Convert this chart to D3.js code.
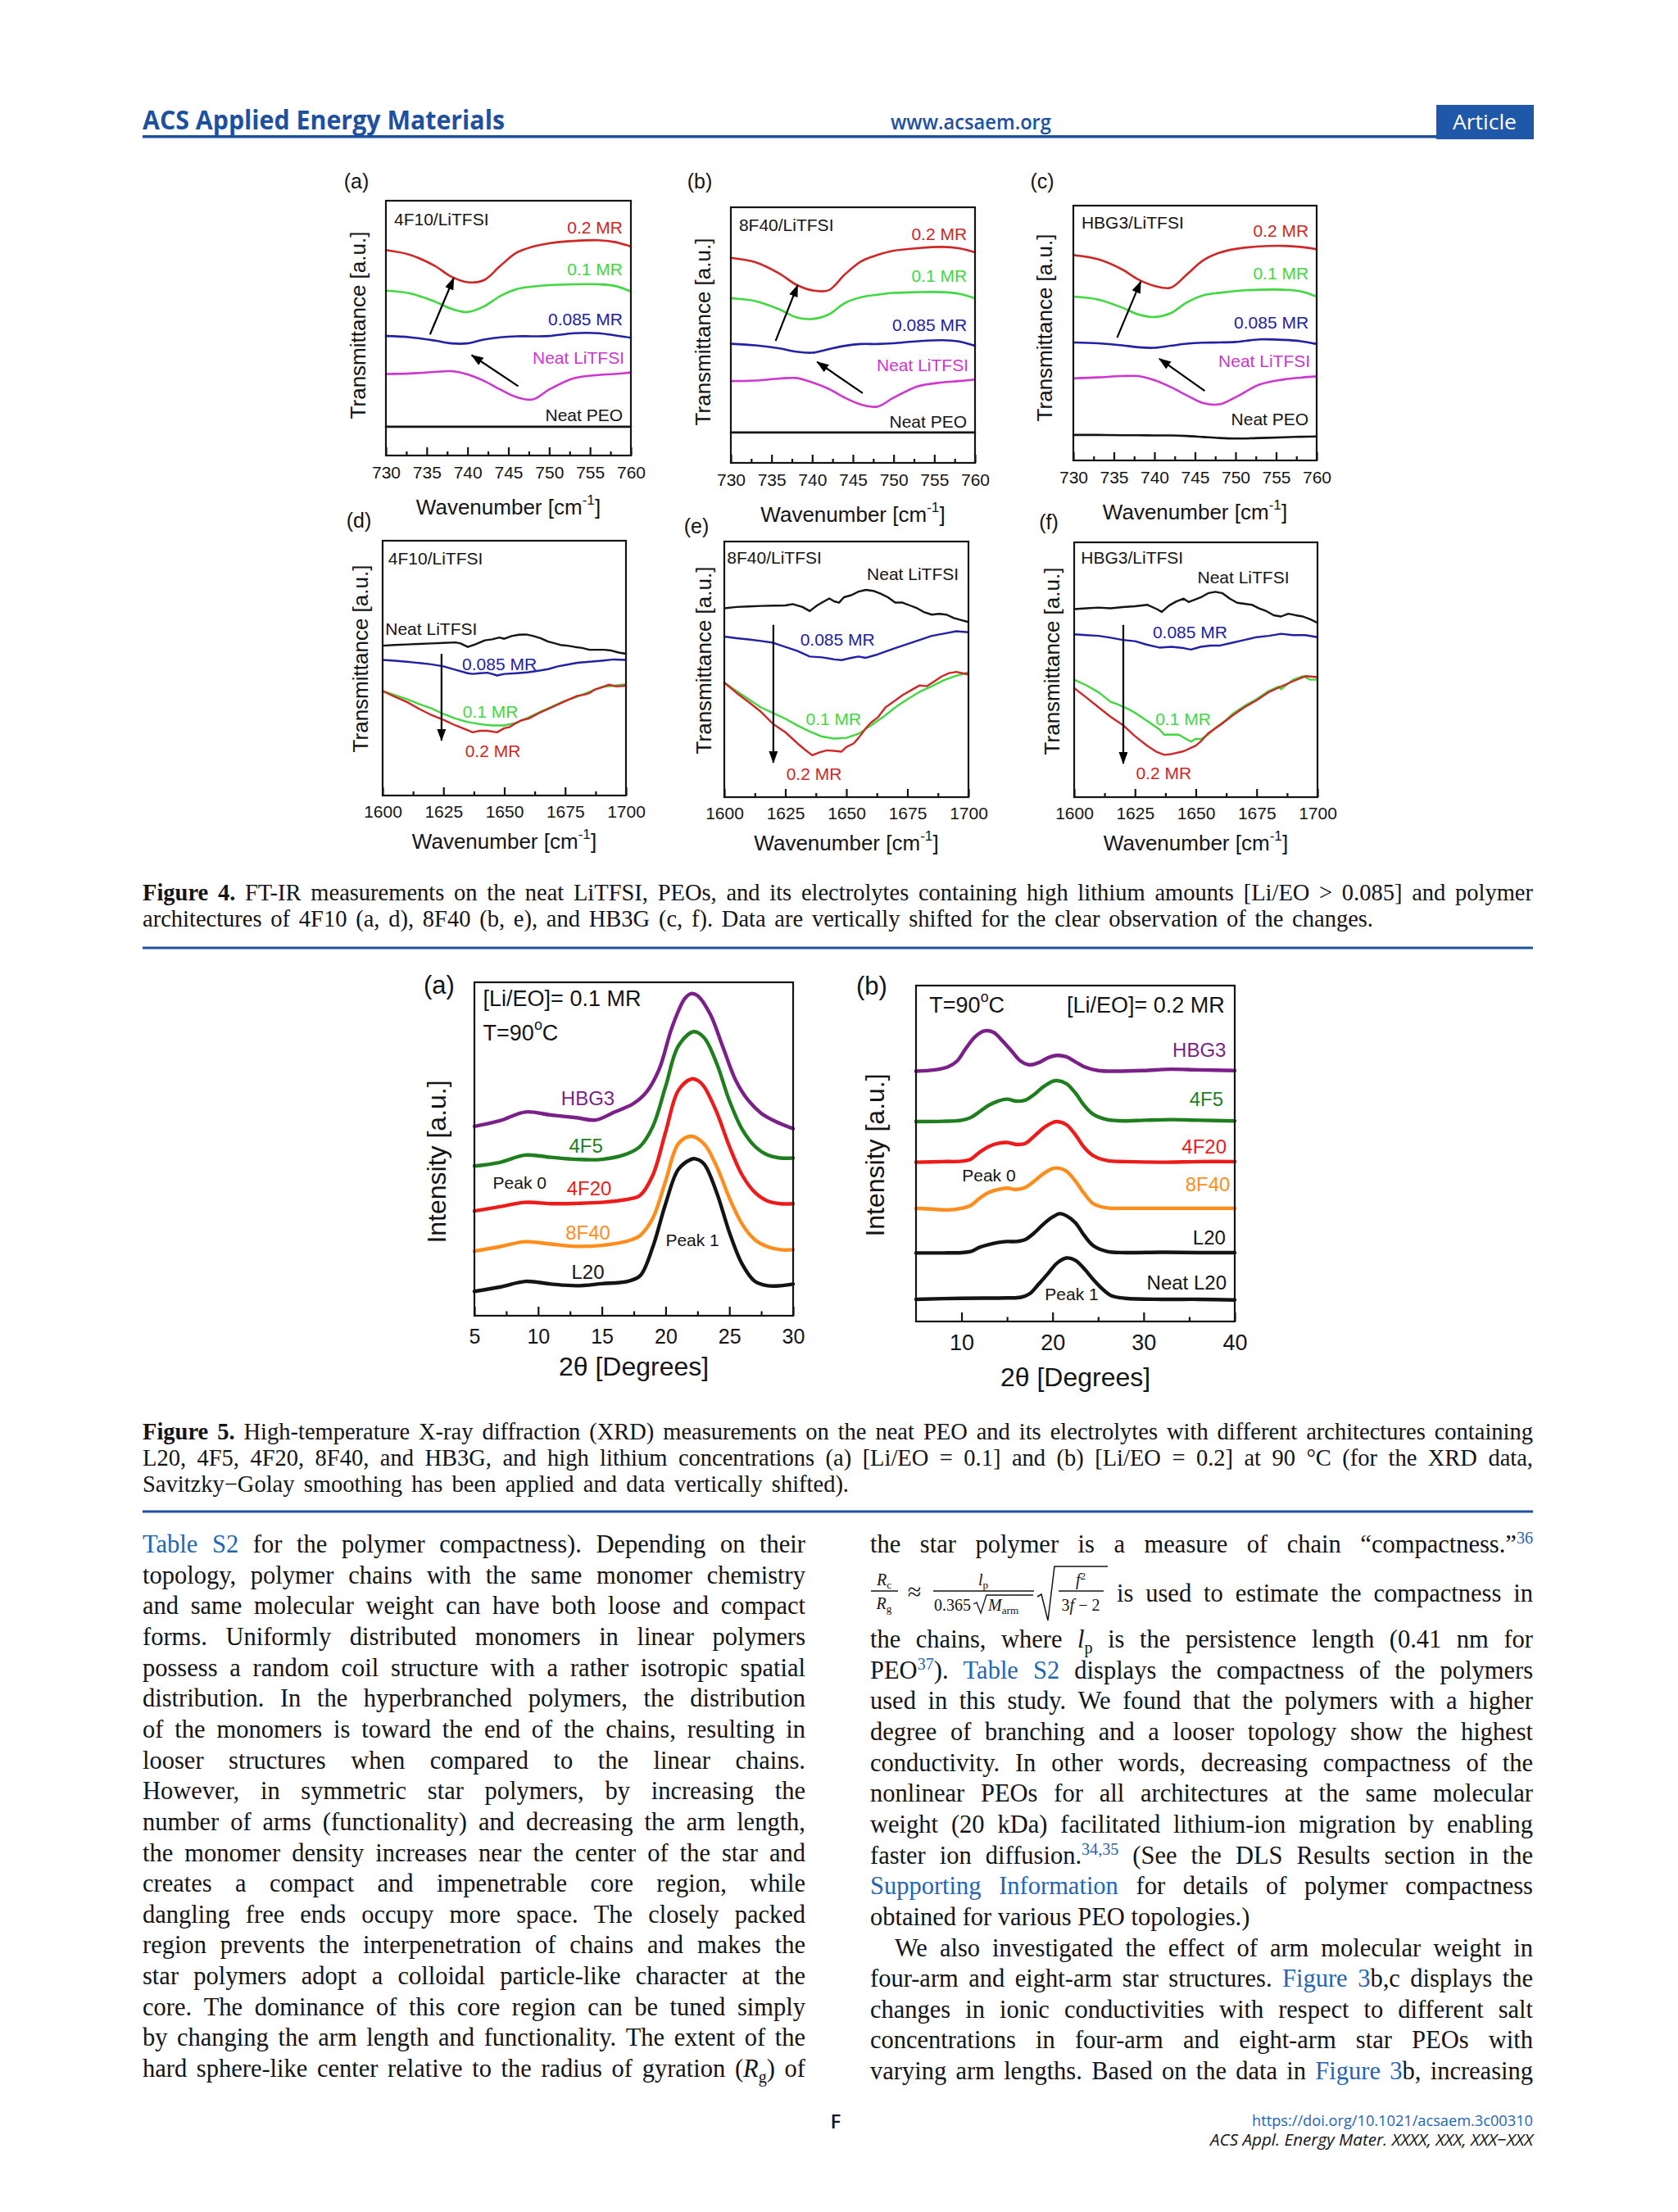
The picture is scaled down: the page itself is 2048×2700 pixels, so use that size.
<!DOCTYPE html>
<html><head><meta charset="utf-8">
<script src="https://cdn.jsdelivr.net/npm/d3@7"></script>
<style>body{margin:0;background:#fff}svg{white-space:pre}</style>
</head><body>
<svg id="page" width="2048" height="2700" xmlns="http://www.w3.org/2000/svg"></svg>
<script>
// ================= DATA =================
// Figure 4 (a-c): 730-760 cm-1 region, shared x grid
const ftirTopX = [730,733,736,738,740,742,744,746,748,750,753,756,758,760];
const a_red   = [80.6,78.7,74.4,70.2,68.0,68.8,74.4,79.6,82.0,83.3,84.2,84.5,83.8,82.0];
const a_green = [64.7,63.6,60.4,57.6,56.3,58.5,62.6,65.3,66.3,66.9,67.2,67.2,66.6,64.4];
const a_blue  = [46.9,46.4,45.1,44.0,44.0,45.5,46.4,46.8,46.8,46.9,48.0,48.0,47.2,46.2];
const a_mag   = [32.0,32.2,32.8,33.1,31.8,29.3,25.9,22.9,22.0,25.9,30.3,31.6,32.0,32.6];
const a_black = [11.3,11.3,11.3,11.3,11.3,11.3,11.3,11.3,11.3,11.3,11.3,11.3,11.3,11.3];
const b_red   = [80.2,78.5,74.0,69.8,67.5,67.5,73.7,78.8,81.3,83.0,84.0,84.5,84.0,82.4];
const b_green = [64.4,63.3,60.0,57.0,56.3,58.0,62.5,64.8,65.8,66.5,66.8,66.8,66.2,64.4];
const b_blue  = [46.6,46.0,44.8,43.5,43.1,44.5,45.8,46.5,46.5,46.8,47.6,48.0,47.5,45.8];
const b_mag   = [32.0,32.2,33.0,33.2,31.5,29.0,25.5,22.8,22.0,25.5,30.0,31.5,32.0,32.6];
const b_black = [11.9,11.9,11.9,11.9,11.9,11.9,11.9,11.9,11.9,11.9,11.9,11.9,11.9,11.9];
const c_red   = [80.6,79.0,75.0,71.0,68.5,67.8,73.0,78.5,81.5,83.0,84.0,84.2,83.8,82.9];
const c_green = [64.3,63.2,60.0,57.3,56.3,57.8,62.0,64.8,65.8,66.5,67.0,67.0,66.4,64.3];
const c_blue  = [46.3,46.0,45.2,44.4,44.2,45.0,45.8,46.2,46.3,46.5,47.5,47.3,46.8,45.7];
const c_mag   = [32.2,32.6,33.1,33.1,31.5,28.8,25.5,22.5,22.0,24.8,29.8,31.8,32.5,33.0];
const c_black = [10.0,10.0,9.9,9.9,9.8,9.8,9.6,9.2,8.8,8.6,8.8,9.1,9.3,9.4];
const ftirTopTicks = [730,735,740,745,750,755,760];
const ftirTopMinor = [732.5,737.5,742.5,747.5,752.5,757.5];

// Figure 4 (d-f): 1600-1700 cm-1 region, [wavenumber, transmittance]
const d_black = [[1600,58.8],[1605,59.1],[1610,59.3],[1615,59.5],[1620,59.7],[1625,59.9],[1630,60.1],[1632,59.7],[1635,58.3],[1638,59.3],[1640,60.1],[1642,60.9],[1645,61.3],[1648,62.0],[1650,61.5],[1653,62.6],[1656,63.1],[1659,63.2],[1662,62.6],[1665,61.7],[1668,60.4],[1670,59.9],[1673,59.1],[1676,58.8],[1679,58.3],[1682,57.9],[1685,57.2],[1688,57.2],[1691,57.2],[1694,56.9],[1697,56.1],[1700,55.6]];
const d_blue = [[1600,53.2],[1605,52.9],[1610,52.5],[1615,52.0],[1620,51.5],[1625,50.7],[1630,49.3],[1635,48.0],[1637,47.7],[1640,48.0],[1643,48.2],[1645,47.7],[1647,47.1],[1650,47.7],[1655,48.0],[1660,48.4],[1665,49.1],[1668,49.6],[1672,50.7],[1675,51.2],[1680,52.1],[1685,52.5],[1690,52.9],[1695,53.4],[1700,53.2]];
const d_green = [[1600,41.0],[1605,39.4],[1610,37.8],[1615,35.9],[1620,34.2],[1625,32.0],[1630,30.2],[1635,28.8],[1640,28.0],[1645,27.5],[1650,27.5],[1655,28.6],[1660,30.7],[1665,32.9],[1670,35.1],[1675,37.2],[1680,38.8],[1685,40.7],[1690,42.6],[1695,43.1],[1700,43.7]];
const d_red = [[1600,41.0],[1605,38.8],[1610,36.7],[1615,34.0],[1620,31.6],[1625,29.7],[1630,27.5],[1635,25.6],[1637,24.8],[1640,25.4],[1643,25.4],[1647,24.8],[1650,26.4],[1652,26.8],[1654,28.0],[1657,29.5],[1660,30.2],[1665,32.7],[1670,34.8],[1675,37.0],[1680,39.1],[1683,39.6],[1685,40.2],[1687,41.5],[1690,42.4],[1693,43.5],[1696,42.8],[1700,43.1]];
const e_black = [[1600,73.9],[1605,74.4],[1610,74.6],[1615,74.8],[1620,74.9],[1625,75.0],[1628,75.5],[1632,74.4],[1635,72.8],[1638,75.0],[1640,76.1],[1643,77.7],[1645,76.6],[1647,76.1],[1649,78.2],[1652,79.0],[1655,80.4],[1658,81.1],[1661,80.7],[1664,79.6],[1667,78.2],[1670,76.1],[1673,76.1],[1676,75.0],[1679,73.9],[1682,72.3],[1685,71.4],[1688,71.7],[1691,71.4],[1694,70.1],[1697,69.3],[1700,68.5]];
const e_blue = [[1600,62.8],[1605,62.2],[1610,61.7],[1615,61.1],[1620,60.4],[1625,58.8],[1630,57.2],[1635,55.0],[1640,54.7],[1645,53.9],[1648,53.6],[1652,54.5],[1655,55.0],[1658,54.5],[1662,55.6],[1665,56.6],[1670,58.3],[1675,59.9],[1680,61.5],[1685,63.1],[1690,64.0],[1695,64.9],[1700,64.5]];
const e_green = [[1600,44.8],[1605,41.5],[1610,38.3],[1615,35.1],[1620,32.9],[1625,30.7],[1630,28.0],[1635,25.7],[1640,23.7],[1645,22.9],[1650,23.2],[1655,24.8],[1660,28.0],[1665,31.3],[1670,35.1],[1675,38.3],[1680,41.2],[1685,43.4],[1690,45.8],[1695,47.5],[1700,48.8]];
const e_red = [[1600,44.8],[1605,40.8],[1610,37.2],[1615,33.4],[1620,28.6],[1625,25.4],[1630,21.0],[1633,18.6],[1636,16.4],[1639,17.5],[1642,18.3],[1645,18.1],[1648,17.8],[1650,19.6],[1653,21.0],[1655,23.2],[1658,27.0],[1660,29.1],[1663,31.3],[1666,35.1],[1670,37.8],[1673,39.9],[1677,42.1],[1680,43.7],[1683,43.4],[1686,45.3],[1689,47.2],[1692,48.5],[1695,49.0],[1700,48.0]];
const f_black = [[1600,73.8],[1605,74.1],[1610,74.4],[1615,74.1],[1620,74.6],[1625,74.9],[1630,75.5],[1634,73.8],[1636,72.7],[1639,75.2],[1642,76.8],[1645,77.9],[1647,76.6],[1649,77.3],[1652,78.4],[1655,80.0],[1658,80.6],[1661,80.0],[1664,77.9],[1667,76.3],[1670,75.9],[1673,75.5],[1676,74.1],[1679,73.0],[1682,71.4],[1685,70.9],[1688,72.0],[1691,71.4],[1694,70.9],[1697,69.8],[1700,68.4]];
const f_blue = [[1600,63.9],[1605,63.6],[1610,63.3],[1615,62.6],[1620,61.7],[1625,61.2],[1630,59.8],[1635,58.7],[1640,59.0],[1645,58.5],[1648,57.9],[1652,59.0],[1656,59.5],[1660,59.5],[1665,60.6],[1670,61.7],[1675,62.8],[1680,63.3],[1685,64.1],[1690,63.6],[1695,63.6],[1700,62.8]];
const f_green = [[1600,46.1],[1605,43.9],[1610,41.2],[1615,37.4],[1618,36.4],[1622,34.7],[1625,33.1],[1630,29.9],[1635,26.6],[1637,24.5],[1640,24.5],[1643,24.5],[1645,23.4],[1648,21.8],[1650,22.9],[1652,22.7],[1655,24.5],[1658,27.2],[1662,29.9],[1665,32.6],[1670,35.8],[1675,38.5],[1680,41.7],[1684,43.4],[1685,42.3],[1687,43.9],[1690,46.1],[1694,47.5],[1697,46.1],[1700,46.1]];
const f_red = [[1600,42.8],[1605,39.1],[1610,35.3],[1615,31.5],[1620,28.3],[1625,23.9],[1630,20.2],[1634,17.7],[1637,16.6],[1640,16.9],[1645,18.0],[1650,20.2],[1652,21.8],[1655,25.0],[1660,28.3],[1665,32.0],[1670,35.3],[1675,38.0],[1680,41.2],[1685,43.4],[1690,45.5],[1695,47.5],[1700,47.1]];
const ftirBotTicks = [1600,1625,1650,1675,1700];
const ftirBotMinor = [1612.5,1637.5,1662.5,1687.5];

// Figure 5 (a): [2theta, intensity]
const xa_HBG3 = [[5,56.8],[7,58.5],[9,61.1],[11,60.2],[13,59.4],[14.5,58.7],[16,61.1],[17.5,63.7],[18.5,67.1],[19.5,74.0],[20.5,86.5],[21.5,95.1],[22,96.6],[22.5,96.0],[23.5,90.4],[24.5,80.5],[25.5,70.6],[26.5,64.5],[27.5,60.7],[28.5,58.5],[30,56.1]];
const xa_4F5 = [[5,44.9],[7,46.0],[9,48.2],[11,47.5],[13,46.9],[15,46.9],[17,48.6],[18,50.8],[19,56.8],[20,68.8],[21,80.9],[22.2,85.2],[23,83.5],[24,75.7],[25,64.5],[26,55.9],[27,50.8],[28,48.2],[29,47.3],[30,47.3]];
const xa_4F20 = [[5,31.4],[7,32.7],[9,34.0],[11,33.6],[13,33.7],[15,34.0],[17,34.9],[18,36.1],[19,42.2],[20,55.1],[21,67.6],[22,71.0],[22.5,70.6],[23,68.8],[24,61.1],[25,50.8],[26,42.2],[27,37.0],[28,34.4],[29,33.6],[30,33.6]];
const xa_8F40 = [[5,19.4],[7,20.7],[9,22.2],[11,21.5],[13,20.8],[15,21.1],[17,22.4],[18,24.1],[19,29.3],[20,40.4],[21,51.6],[22,53.8],[23,51.6],[24,44.8],[25,35.3],[26,27.5],[27,22.8],[28,20.7],[29,19.8],[30,19.8]];
const xa_L20 = [[5,7.3],[7,8.6],[9,10.3],[11,9.5],[13,9.0],[15,9.6],[17,10.3],[18,12.0],[19,20.7],[20,33.6],[21,43.9],[22,46.9],[22.3,47.1],[23,45.6],[24,37.0],[25,25.0],[26,15.5],[27,10.3],[28,9.0],[29,9.0],[30,9.5]];
const xaTicks = [5,10,15,20,25,30];
const xaMinor = [7.5,12.5,17.5,22.5,27.5];

// Figure 5 (b)
const xb_HBG3 = [[5,74.5],[7,74.9],[8.5,75.8],[9.5,77.5],[10.5,81.4],[11.5,84.8],[12.5,86.5],[13.5,86.1],[14.5,83.5],[15.5,80.5],[16.5,77.5],[17.5,76.4],[18.5,77.1],[19.5,78.5],[20.5,79.2],[21.5,78.8],[22.5,77.3],[23.5,75.8],[25,74.7],[27,74.5],[30,74.7],[33,75.1],[36,74.9],[40,74.7]];
const xb_4F5 = [[5,59.5],[8,59.6],[10,59.9],[11,60.7],[12,62.5],[13,64.4],[14,65.6],[15,66.2],[16,65.6],[17,65.9],[18,67.6],[19,69.9],[20,71.5],[20.5,71.7],[21.5,70.8],[22.5,68.0],[23.5,64.2],[24.5,61.6],[26,60.1],[28,59.7],[30,59.9],[33,60.1],[36,59.9],[40,59.7]];
const xb_4F20 = [[5,47.4],[8,47.6],[10,47.7],[11,48.3],[12,50.4],[13,52.1],[14,53.0],[15,53.3],[16,52.7],[17,53.0],[18,55.2],[19,57.6],[20,59.2],[20.5,59.5],[21.5,58.6],[22.5,55.6],[23.5,51.7],[24.5,49.3],[26,47.9],[28,47.6],[32,47.4],[36,47.6],[40,47.6]];
const xb_8F40 = [[5,33.7],[7,33.4],[8.5,33.2],[10,33.7],[11,34.5],[12,36.7],[13,38.4],[14,39.3],[15,39.7],[16,39.3],[17,39.9],[18,41.8],[19,44.0],[20,45.5],[20.5,45.7],[21.5,44.8],[22.5,41.8],[23.5,38.0],[24.5,35.0],[26,33.8],[28,33.7],[32,33.7],[36,33.7],[40,33.7]];
const xb_L20 = [[5,20.4],[8,20.4],[10,20.5],[11,20.8],[12,22.1],[13,22.9],[14,23.5],[15,23.8],[16,23.8],[17,24.4],[18,26.4],[19,29.0],[20,31.1],[20.8,32.1],[21.5,31.5],[22.5,29.4],[23.5,25.5],[24.5,22.5],[26,20.8],[28,20.5],[32,20.6],[36,20.5],[40,20.5]];
const xb_NeatL20 = [[5,6.6],[10,6.9],[15,7.0],[16.5,7.2],[17.5,8.3],[18.5,11.2],[19.5,14.3],[20.5,17.4],[21.5,18.9],[22.5,18.2],[23.5,15.6],[24.5,12.4],[25.5,9.6],[26.5,7.6],[28,6.9],[32,6.6],[36,6.6],[40,6.4]];
const xbTicks = [10,20,30,40];
const xbMinor = [15,25,35];

// Text content
const headerTitle = "ACS Applied Energy Materials";
const headerUrl = "www.acsaem.org";
const headerType = "Article";
const caption4 = [
  "<b>Figure 4.</b> FT-IR measurements on the neat LiTFSI, PEOs, and its electrolytes containing high lithium amounts [Li/EO > 0.085] and polymer",
  "architectures of 4F10 (a, d), 8F40 (b, e), and HB3G (c, f). Data are vertically shifted for the clear observation of the changes."
];
const caption5 = [
  "<b>Figure 5.</b> High-temperature X-ray diffraction (XRD) measurements on the neat PEO and its electrolytes with different architectures containing",
  "L20, 4F5, 4F20, 8F40, and HB3G, and high lithium concentrations (a) [Li/EO = 0.1] and (b) [Li/EO = 0.2] at 90 °C (for the XRD data,",
  "Savitzky−Golay smoothing has been applied and data vertically shifted)."
];
const leftLines = [
  "<l>Table S2</l> for the polymer compactness). Depending on their",
  "topology, polymer chains with the same monomer chemistry",
  "and same molecular weight can have both loose and compact",
  "forms. Uniformly distributed monomers in linear polymers",
  "possess a random coil structure with a rather isotropic spatial",
  "distribution. In the hyperbranched polymers, the distribution",
  "of the monomers is toward the end of the chains, resulting in",
  "looser structures when compared to the linear chains.",
  "However, in symmetric star polymers, by increasing the",
  "number of arms (functionality) and decreasing the arm length,",
  "the monomer density increases near the center of the star and",
  "creates a compact and impenetrable core region, while",
  "dangling free ends occupy more space. The closely packed",
  "region prevents the interpenetration of chains and makes the",
  "star polymers adopt a colloidal particle-like character at the",
  "core. The dominance of this core region can be tuned simply",
  "by changing the arm length and functionality. The extent of the",
  "hard sphere-like center relative to the radius of gyration (<i>R</i><sub>g</sub>) of"
];
const rightFirst = "the star polymer is a measure of chain “compactness.”<l><sup>36</sup></l>";
const rightFormulaTail = "is used to estimate the compactness in";
const rightLines = [
  "the chains, where <i>l</i><sub>p</sub> is the persistence length (0.41 nm for",
  "PEO<l><sup>37</sup></l>). <l>Table S2</l> displays the compactness of the polymers",
  "used in this study. We found that the polymers with a higher",
  "degree of branching and a looser topology show the highest",
  "conductivity. In other words, decreasing compactness of the",
  "nonlinear PEOs for all architectures at the same molecular",
  "weight (20 kDa) facilitated lithium-ion migration by enabling",
  "faster ion diffusion.<l><sup>34,35</sup></l> (See the DLS Results section in the",
  "<l>Supporting Information</l> for details of polymer compactness",
  "obtained for various PEO topologies.)",
  "We also investigated the effect of arm molecular weight in",
  "four-arm and eight-arm star structures. <l>Figure 3</l>b,c displays the",
  "changes in ionic conductivities with respect to different salt",
  "concentrations in four-arm and eight-arm star PEOs with",
  "varying arm lengths. Based on the data in <l>Figure 3</l>b, increasing"
];
const footerPage = "F";
const footerDoi = "https://doi.org/10.1021/acsaem.3c00310";
const footerCite = "ACS Appl. Energy Mater. XXXX, XXX, XXX−XXX";

// ================= DRAWING =================
const svg = d3.select('#page');
const SERIF = "'Liberation Serif','Times New Roman',serif";
const SANS = "'Liberation Sans',Arial,Helvetica,sans-serif";
const HEAD = "'Open Sans','DejaVu Sans',sans-serif";
const ACS = '#1d519f', LINK = '#2266b3', INK = '#141414';
const C = {red:'#d02626', green:'#3fd83f', blue:'#2121a6', mag:'#cf35cf', black:'#141414',
           xpur:'#7b1f89', xgrn:'#1f7f1f', xred:'#ee1b1b', xorg:'#ff8d1c'};

svg.append('rect').attr('width',2048).attr('height',2700).attr('fill','#fff');
const defs = svg.append('defs');
function marker(id, w, h){
  defs.append('marker').attr('id',id).attr('viewBox',`0 0 ${w} ${h}`).attr('refX',w-1).attr('refY',h/2)
    .attr('markerWidth',w).attr('markerHeight',h).attr('markerUnits','userSpaceOnUse').attr('orient','auto')
    .append('path').attr('d',`M0,0L${w},${h/2}L0,${h}Z`).attr('fill','#000');
}
marker('ah', 15, 11);

function parseRich(str){
  const runs=[]; const st={b:0,i:0,l:0,sup:0,sub:0};
  const re=/<(\/?)(b|i|l|sup|sub)>/g; let last=0,m;
  while((m=re.exec(str))){ if(m.index>last) runs.push(Object.assign({t:str.slice(last,m.index)},st)); st[m[2]] = m[1]?0:1; last=re.lastIndex; }
  if(last<str.length) runs.push(Object.assign({t:str.slice(last)},st));
  return runs;
}
function appendRuns(textSel, runs, fs, linkColor){
  let shift=0;
  runs.forEach(r=>{
    const target = r.sup? -0.36*fs : (r.sub? 0.22*fs : 0);
    const ts = textSel.append('tspan').text(r.t);
    if(Math.abs(target-shift)>0.001){ ts.attr('dy', target-shift); shift=target; }
    if(r.sup||r.sub) ts.attr('font-size', fs*0.66);
    if(r.b) ts.attr('font-weight','bold');
    if(r.i) ts.attr('font-style','italic');
    if(r.l) ts.attr('fill',linkColor);
  });
}
function toWords(runs){
  const words=[]; let cur=[];
  runs.forEach(r=>{
    r.t.split(' ').forEach((p,k)=>{
      if(k>0){ if(cur.length) words.push(cur); cur=[]; }
      if(p.length) cur.push(Object.assign({},r,{t:p}));
    });
  });
  if(cur.length) words.push(cur);
  return words;
}
// x1 === null -> natural word spacing (last line of a paragraph)
function textLine(g, str, x0, x1, base, fs, family){
  const words = toWords(parseRich(str));
  const nodes = words.map(w=>{
    const t=g.append('text').attr('y',base).attr('font-family',family||SERIF).attr('font-size',fs).attr('fill',INK);
    appendRuns(t,w,fs,LINK); return t; });
  let widths = nodes.map(n=>n.node().getComputedTextLength());
  const total = d3.sum(widths);
  const n = words.length;
  const minGap = fs*0.2;
  let gap = fs*0.25;
  if(x1 !== null){
    if(n>1) gap = (x1-x0-total)/(n-1);
    if(n>1 && gap < minGap){
      const k = (x1-x0-minGap*(n-1))/total;
      widths = widths.map((w,i)=>{ nodes[i].attr('textLength', w*k).attr('lengthAdjust','spacingAndGlyphs'); return w*k; });
      gap = minGap;
    }
  }
  let xx=x0; nodes.forEach((nd,k)=>{ nd.attr('x',xx); xx+=widths[k]+gap; });
}
function richLabel(g, str, x, y, fs, color, anchor, weight){
  const t = g.append('text').attr('x',x).attr('y',y).attr('font-family',SANS).attr('font-size',fs)
    .attr('fill',color).attr('text-anchor',anchor||'start').attr('dominant-baseline','central');
  if(weight) t.attr('font-weight',weight);
  appendRuns(t, parseRich(str), fs, color);
  return t;
}

// ---------- header ----------
svg.append('text').attr('x',174).attr('y',158).attr('font-family',HEAD).attr('font-weight',700).attr('font-size',32)
  .attr('fill',ACS).attr('textLength',442).attr('lengthAdjust','spacingAndGlyphs').text(headerTitle);
svg.append('text').attr('x',1087).attr('y',158).attr('font-family',HEAD).attr('font-weight',600).attr('font-size',25)
  .attr('fill',ACS).attr('textLength',196).attr('lengthAdjust','spacingAndGlyphs').text(headerUrl);
svg.append('rect').attr('x',174).attr('y',165).attr('width',1580).attr('height',3.5).attr('fill',ACS);
svg.append('rect').attr('x',1753).attr('y',128).attr('width',119).attr('height',42).attr('fill','#1f58a8');
svg.append('text').attr('x',1812).attr('y',158).attr('font-family',HEAD).attr('font-size',25).attr('fill','#fff')
  .attr('text-anchor','middle').attr('textLength',78).attr('lengthAdjust','spacingAndGlyphs').text(headerType);

// ---------- panels ----------
function drawPanel(p){
  const [bx0,bx1,by0,by1] = p.box;
  const x = d3.scaleLinear().domain(p.xDomain).range([bx0,bx1]);
  const y = d3.scaleLinear().domain([0,100]).range([by1,by0]);
  const g = svg.append('g');
  p.series.forEach(s=>{
    const line = d3.line().x(d=>x(d[0])).y(d=>y(d[1])).curve(s.smooth? d3.curveCatmullRom.alpha(0.5) : d3.curveLinear);
    g.append('path').attr('d', line(s.pts)).attr('fill','none').attr('stroke',s.color)
      .attr('stroke-width',p.lw).attr('stroke-linejoin','round').attr('stroke-linecap','round');
  });
  const ax = g.append('g').attr('transform',`translate(0,${by1})`)
    .call(d3.axisBottom(x).tickValues(p.major).tickSizeInner(-p.tickLen).tickSizeOuter(0).tickPadding(p.tickPad).tickFormat(d3.format('d')));
  ax.select('.domain').remove();
  ax.selectAll('text').attr('font-family',SANS).attr('font-size',p.tickFs).attr('fill',INK);
  ax.selectAll('line').attr('stroke',INK).attr('stroke-width',p.frameW);
  const axm = g.append('g').attr('transform',`translate(0,${by1})`)
    .call(d3.axisBottom(x).tickValues(p.minor).tickSizeInner(-p.tickLen/2).tickSizeOuter(0).tickFormat(''));
  axm.select('.domain').remove();
  axm.selectAll('line').attr('stroke',INK).attr('stroke-width',p.frameW);
  g.append('rect').attr('x',bx0).attr('y',by0).attr('width',bx1-bx0).attr('height',by1-by0)
    .attr('fill','none').attr('stroke',INK).attr('stroke-width',p.frameW);
  (p.arrows||[]).forEach(a=>{
    g.append('line').attr('x1',x(a[0])).attr('y1',y(a[1])).attr('x2',x(a[2])).attr('y2',y(a[3]))
      .attr('stroke','#000').attr('stroke-width',2.2).attr('marker-end','url(#ah)');
  });
  p.labels.forEach(l=>{
    richLabel(g, l.t, x(l.x), y(l.y), l.fs||p.labelFs, l.c||INK, l.a||'start');
  });
  richLabel(g, p.xTitle, (bx0+bx1)/2, by1+p.xTitleOff, p.titleFs, INK, 'middle');
  const yt = richLabel(g, p.yTitle, 0, 0, p.titleFs, INK, 'middle');
  yt.attr('transform',`translate(${p.yTitlePos[0]},${p.yTitlePos[1]}) rotate(-90)`);
  richLabel(g, p.letter, p.letterPos[0], p.letterPos[1], p.letterFs, INK, 'middle');
}
const zipX = arr => arr.map((v,i)=>[ftirTopX[i], v]);

const topCommon = {xDomain:[730,760], major:ftirTopTicks, minor:ftirTopMinor, lw:2.6, frameW:2.2, tickLen:10,
  tickPad:12.6, tickFs:21, labelFs:21, titleFs:26, xTitleOff:63,
  xTitle:'Wavenumber [cm<sup>-1</sup>]', yTitle:'Transmittance [a.u.]', letterFs:25};
function topLabels(name, ys){
  return [
    {t:name, x:731.0, y:ys[0]},
    {t:'0.2 MR', x:759, y:ys[1], a:'end', c:C.red},
    {t:'0.1 MR', x:759, y:ys[2], a:'end', c:C.green},
    {t:'0.085 MR', x:759, y:ys[3], a:'end', c:C.blue},
    {t:'Neat LiTFSI', x:759.2, y:ys[4], a:'end', c:C.mag},
    {t:'Neat PEO', x:759, y:ys[5], a:'end'}
  ];
}
drawPanel(Object.assign({}, topCommon, {box:[471,770,245,556], letter:'(a)', letterPos:[435,221], yTitlePos:[437,397],
  series:[{pts:zipX(a_red),color:C.red,smooth:1},{pts:zipX(a_green),color:C.green,smooth:1},{pts:zipX(a_blue),color:C.blue,smooth:1},{pts:zipX(a_mag),color:C.mag,smooth:1},{pts:zipX(a_black),color:C.black,smooth:1}],
  labels:topLabels('4F10/LiTFSI',[92.8,89.7,73.4,53.7,38.5,16.2]),
  arrows:[[735.4,47.5,738.3,69.6],[746.2,27.2,740.5,39.4]]}));
drawPanel(Object.assign({}, topCommon, {box:[892,1190,253,565], letter:'(b)', letterPos:[854,221], yTitlePos:[858,405],
  series:[{pts:zipX(b_red),color:C.red,smooth:1},{pts:zipX(b_green),color:C.green,smooth:1},{pts:zipX(b_blue),color:C.blue,smooth:1},{pts:zipX(b_mag),color:C.mag,smooth:1},{pts:zipX(b_black),color:C.black,smooth:1}],
  labels:topLabels('8F40/LiTFSI',[93.2,89.8,73.3,54.2,38.6,16.5]),
  arrows:[[735.5,47.7,738.2,69.5],[746.2,27.3,740.6,39.5]]}));
drawPanel(Object.assign({}, topCommon, {box:[1310,1607,251,562], letter:'(c)', letterPos:[1272,221], yTitlePos:[1275,400],
  series:[{pts:zipX(c_red),color:C.red,smooth:1},{pts:zipX(c_green),color:C.green,smooth:1},{pts:zipX(c_blue),color:C.blue,smooth:1},{pts:zipX(c_mag),color:C.mag,smooth:1},{pts:zipX(c_black),color:C.black,smooth:1}],
  labels:topLabels('HBG3/LiTFSI',[93.5,90.5,73.7,54.3,39.2,16.5]),
  arrows:[[735.4,48.2,738.3,70.2],[746.2,27.3,740.6,39.9]]}));

const botCommon = {xDomain:[1600,1700], major:ftirBotTicks, minor:ftirBotMinor, lw:2.4, frameW:2.2, tickLen:10,
  tickPad:11.6, tickFs:21, labelFs:21, titleFs:26, xTitleOff:56,
  xTitle:'Wavenumber [cm<sup>-1</sup>]', yTitle:'Transmittance [a.u.]', letterFs:25};
drawPanel(Object.assign({}, botCommon, {box:[467,764,660,971], letter:'(d)', letterPos:[438,635], yTitlePos:[440,804],
  series:[{pts:d_black,color:C.black},{pts:d_blue,color:C.blue},{pts:d_green,color:C.green},{pts:d_red,color:C.red}],
  labels:[{t:'4F10/LiTFSI',x:1602.3,y:93.3},{t:'Neat LiTFSI',x:1601.1,y:65.6},{t:'0.085 MR',x:1632.7,y:51.8,c:C.blue},
          {t:'0.1 MR',x:1632.9,y:33.1,c:C.green},{t:'0.2 MR',x:1633.9,y:17.8,c:C.red}],
  arrows:[[1624.2,55.6,1624.2,21.6]]}));
drawPanel(Object.assign({}, botCommon, {box:[884,1182,661,973], letter:'(e)', letterPos:[850,642], yTitlePos:[859,806],
  series:[{pts:e_black,color:C.black},{pts:e_blue,color:C.blue},{pts:e_green,color:C.green},{pts:e_red,color:C.red}],
  labels:[{t:'8F40/LiTFSI',x:1601.1,y:93.9},{t:'Neat LiTFSI',x:1696,y:87.4,a:'end'},{t:'0.085 MR',x:1631.1,y:62,c:C.blue},
          {t:'0.1 MR',x:1633.4,y:30.7,c:C.green},{t:'0.2 MR',x:1625.4,y:9.2,c:C.red}],
  arrows:[[1620.1,67.4,1620.1,13.5]]}));
drawPanel(Object.assign({}, botCommon, {box:[1311,1608,662,973], letter:'(f)', letterPos:[1280,637], yTitlePos:[1284,807],
  series:[{pts:f_black,color:C.black},{pts:f_blue,color:C.blue},{pts:f_green,color:C.green},{pts:f_red,color:C.red}],
  labels:[{t:'HBG3/LiTFSI',x:1602.8,y:94.1},{t:'Neat LiTFSI',x:1688.4,y:86.5,a:'end'},{t:'0.085 MR',x:1632.3,y:64.9,c:C.blue},
          {t:'0.1 MR',x:1633.4,y:31,c:C.green},{t:'0.2 MR',x:1625.4,y:9.7,c:C.red}],
  arrows:[[1620.2,67.6,1620.2,13.2]]}));

// Figure 5
drawPanel({box:[579,968,1199,1606], xDomain:[5,30], major:xaTicks, minor:xaMinor, lw:4.4, frameW:2.2, tickLen:11,
  tickPad:16, tickFs:25, labelFs:24, titleFs:32, xTitleOff:62,
  xTitle:'2θ [Degrees]', yTitle:'Intensity [a.u.]', letter:'(a)', letterPos:[536,1202], letterFs:31, yTitlePos:[533,1418],
  series:[{pts:xa_HBG3,color:C.xpur,smooth:1},{pts:xa_4F5,color:C.xgrn,smooth:1},{pts:xa_4F20,color:C.xred,smooth:1},
          {pts:xa_8F40,color:C.xorg,smooth:1},{pts:xa_L20,color:C.black,smooth:1}],
  labels:[{t:'[Li/EO]= 0.1 MR',x:5.68,y:95.1,fs:27},{t:'T=90<sup>o</sup>C',x:5.68,y:84.8,fs:27},
          {t:'HBG3',x:13.9,y:65.4,a:'middle',c:C.xpur},{t:'4F5',x:13.75,y:51.2,a:'middle',c:C.xgrn},
          {t:'Peak 0',x:8.55,y:40.0,a:'middle',fs:21},{t:'4F20',x:14,y:38.3,a:'middle',c:C.xred},
          {t:'8F40',x:13.9,y:25.0,a:'middle',c:C.xorg},{t:'Peak 1',x:22.1,y:22.8,a:'middle',fs:21},
          {t:'L20',x:13.9,y:13.3,a:'middle'}]});
drawPanel({box:[1118,1507,1203,1613], xDomain:[5,40], major:xbTicks, minor:xbMinor, lw:4.4, frameW:2.2, tickLen:11,
  tickPad:16, tickFs:27, labelFs:24, titleFs:32, xTitleOff:68,
  xTitle:'2θ [Degrees]', yTitle:'Intensity [a.u.]', letter:'(b)', letterPos:[1064,1203], letterFs:31, yTitlePos:[1068,1410],
  series:[{pts:xb_HBG3,color:C.xpur,smooth:1},{pts:xb_4F5,color:C.xgrn,smooth:1},{pts:xb_4F20,color:C.xred,smooth:1},
          {pts:xb_8F40,color:C.xorg,smooth:1},{pts:xb_L20,color:C.black,smooth:1},{pts:xb_NeatL20,color:C.black,smooth:1}],
  labels:[{t:'T=90<sup>o</sup>C',x:6.47,y:94.2,fs:27},{t:'[Li/EO]= 0.2 MR',x:38.9,y:94.2,a:'end',fs:27},
          {t:'HBG3',x:39.05,y:80.9,a:'end',c:C.xpur},{t:'4F5',x:38.75,y:66.3,a:'end',c:C.xgrn},
          {t:'4F20',x:39.1,y:52.3,a:'end',c:C.xred},{t:'Peak 0',x:13.0,y:43.6,a:'middle',fs:21},
          {t:'8F40',x:39.5,y:41.0,a:'end',c:C.xorg},{t:'L20',x:39.0,y:25.1,a:'end'},
          {t:'Neat L20',x:39.1,y:11.8,a:'end'},{t:'Peak 1',x:22.1,y:8.3,a:'middle',fs:21}]});

// ---------- captions ----------
const tg = svg.append('g');
const CFS = 28.5;
textLine(tg, caption4[0], 174, 1871, 1099, CFS);
textLine(tg, caption4[1], 174, 1676, 1131, CFS);
svg.append('rect').attr('x',174).attr('y',1155.5).attr('width',1697).attr('height',3).attr('fill',ACS);
textLine(tg, caption5[0], 174, 1871, 1757, CFS);
textLine(tg, caption5[1], 174, 1871, 1789, CFS);
textLine(tg, caption5[2], 174, 1036, 1821, CFS);
svg.append('rect').attr('x',174).attr('y',1843.5).attr('width',1697).attr('height',3).attr('fill',ACS);

// ---------- body text ----------
const LH = 37.65, FS = 30.5;
leftLines.forEach((s,k)=> textLine(tg, s, 174, 983, 1895 + LH*k, FS));
textLine(tg, rightFirst, 1062, 1871, 1895, FS);
rightLines.forEach((s,k)=>{
  const x0 = (k===10)? 1092 : 1062;
  const x1 = (k===9)? null : 1871;
  textLine(tg, s, x0, x1, 2011 + LH*k, FS);
});
// formula line
(function(){
  const f = svg.append('g').attr('font-family',SERIF).attr('fill',INK);
  const sm = 20;
  const t1 = f.append('text').attr('x',1079).attr('y',1935).attr('font-size',sm).attr('text-anchor','middle');
  appendRuns(t1, parseRich('<i>R</i><sub>c</sub>'), sm, LINK);
  f.append('line').attr('x1',1063).attr('x2',1096).attr('y1',1942).attr('y2',1942).attr('stroke',INK).attr('stroke-width',1.3);
  const t2 = f.append('text').attr('x',1079).attr('y',1964).attr('font-size',sm).attr('text-anchor','middle');
  appendRuns(t2, parseRich('<i>R</i><sub>g</sub>'), sm, LINK);
  f.append('text').attr('x',1116).attr('y',1953).attr('font-size',30).attr('text-anchor','middle').text('≈');
  const t3 = f.append('text').attr('x',1200).attr('y',1935).attr('font-size',sm).attr('text-anchor','middle');
  appendRuns(t3, parseRich('<i>l</i><sub>p</sub>'), sm, LINK);
  f.append('line').attr('x1',1139).attr('x2',1262).attr('y1',1942).attr('y2',1942).attr('stroke',INK).attr('stroke-width',1.3);
  f.append('text').attr('x',1140).attr('y',1966).attr('font-size',sm).text('0.365');
  f.append('path').attr('d','M1188,1958 L1192,1956 L1197,1969 L1204,1947 L1261,1947').attr('fill','none').attr('stroke',INK).attr('stroke-width',1.3);
  const t4 = f.append('text').attr('x',1206).attr('y',1966).attr('font-size',sm);
  appendRuns(t4, parseRich('<i>M</i><sub>arm</sub>'), sm, LINK);
  f.append('path').attr('d','M1266,1949 L1271,1946 L1279,1978 L1287,1912 L1352,1912').attr('fill','none').attr('stroke',INK).attr('stroke-width',1.5);
  const t5 = f.append('text').attr('x',1319).attr('y',1935).attr('font-size',sm).attr('text-anchor','middle');
  appendRuns(t5, parseRich('<i>f</i><sup>2</sup>'), sm, LINK);
  f.append('line').attr('x1',1292).attr('x2',1347).attr('y1',1942).attr('y2',1942).attr('stroke',INK).attr('stroke-width',1.3);
  const t6 = f.append('text').attr('x',1319).attr('y',1966).attr('font-size',sm).attr('text-anchor','middle');
  appendRuns(t6, parseRich('3<i>f</i> − 2'), sm, LINK);
  textLine(tg, rightFormulaTail, 1363, 1871, 1955, FS);
})();

// ---------- footer ----------
svg.append('text').attr('x',1020).attr('y',2598).attr('font-family',HEAD).attr('font-weight',600).attr('font-size',24)
  .attr('text-anchor','middle').attr('fill',INK).text(footerPage);
svg.append('text').attr('x',1871).attr('y',2595).attr('font-family',HEAD).attr('font-size',19).attr('fill',LINK)
  .attr('text-anchor','end').attr('textLength',343).attr('lengthAdjust','spacingAndGlyphs').text(footerDoi);
svg.append('text').attr('x',1871).attr('y',2619).attr('font-family',HEAD).attr('font-style','italic').attr('font-size',20).attr('fill',INK)
  .attr('text-anchor','end').attr('textLength',394).attr('lengthAdjust','spacingAndGlyphs').text(footerCite);
</script>
</body></html>
